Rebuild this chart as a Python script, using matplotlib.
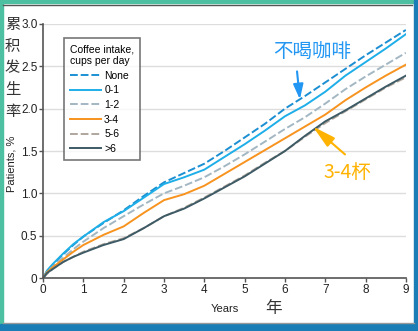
import matplotlib
matplotlib.use('Agg')
import matplotlib.pyplot as plt
from matplotlib.patches import Rectangle
from matplotlib.lines import Line2D

plt.rcParams['font.family'] = ['Liberation Sans', 'DejaVu Sans']

# cumulative incidence (%) by coffee intake group
years = [0, 0.1, 0.25, 0.5, 0.75, 1, 1.5, 2, 2.5, 3, 3.5, 4, 4.5, 5,
         5.5, 6, 6.5, 7, 7.5, 8, 8.5, 9]
none = [0, 0.08, 0.16, 0.28, 0.39, 0.49, 0.65, 0.80, 0.97, 1.13, 1.24,
        1.35, 1.50, 1.66, 1.82, 2.00, 2.15, 2.31, 2.47, 2.63, 2.78, 2.93]
cup01 = [0, 0.09, 0.17, 0.29, 0.40, 0.49, 0.66, 0.79, 0.95, 1.11, 1.19,
         1.28, 1.43, 1.58, 1.74, 1.91, 2.04, 2.20, 2.39, 2.55, 2.71, 2.88]
cup12 = [0, 0.07, 0.14, 0.24, 0.34, 0.43, 0.59, 0.73, 0.87, 1.00, 1.09,
         1.19, 1.32, 1.46, 1.61, 1.76, 1.90, 2.06, 2.23, 2.38, 2.52, 2.66]
cup34 = [0, 0.07, 0.13, 0.22, 0.31, 0.39, 0.51, 0.61, 0.77, 0.92, 0.99,
         1.09, 1.23, 1.37, 1.51, 1.65, 1.79, 1.93, 2.10, 2.25, 2.39, 2.52]
cup56 = [0, 0.05, 0.11, 0.19, 0.25, 0.31, 0.40, 0.47, 0.59, 0.73, 0.83,
         0.95, 1.08, 1.21, 1.36, 1.50, 1.67, 1.83, 1.97, 2.11, 2.25, 2.37]
cup6p = [0, 0.06, 0.11, 0.19, 0.25, 0.30, 0.39, 0.46, 0.59, 0.73, 0.82,
         0.94, 1.07, 1.20, 1.35, 1.50, 1.68, 1.85, 1.98, 2.12, 2.26, 2.39]

labels = ['None', '0-1', '1-2', '3-4', '5-6', '>6']
series = [none, cup01, cup12, cup34, cup56, cup6p]
colors = ['#1b8fd2', '#1eaee8', '#a3b7c3', '#f7931e', '#afa79d', '#3d5a65']
styles = [(0, (4, 1.5)), '-', (0, (4, 1.5)), '-', (0, (4, 1.5)), '-']

fig = plt.figure(figsize=(4.18, 3.31), dpi=100)

# frame strips around the panel
fig.patches.append(Rectangle((0, 0), 1, 1, transform=fig.transFigure,
                             color='white', zorder=-10))
fig.patches.append(Rectangle((0, 0.99), 1, 0.01, transform=fig.transFigure,
                             color='#4cc0a0', zorder=-5))
fig.patches.append(Rectangle((0, 0), 0.008, 1, transform=fig.transFigure,
                             color='#4cc0a0', zorder=-5))
fig.patches.append(Rectangle((0.99, 0), 0.01, 1, transform=fig.transFigure,
                             color='#1a7db5', zorder=-5))
fig.patches.append(Rectangle((0, 0), 1, 0.021, transform=fig.transFigure,
                             color='#1a7db5', zorder=-5))
fig.lines.append(Line2D([0.008, 0.985], [0.986, 0.986], transform=fig.transFigure,
                        color='#555555', linewidth=1))
fig.lines.append(Line2D([0.008, 0.99], [0.024, 0.024], transform=fig.transFigure,
                        color='#999999', linewidth=1))

ax = fig.add_axes([0.103, 0.160, 0.868, 0.7675])
for i in range(len(series)):
    ax.plot(years, series[i], color=colors[i], linestyle=styles[i],
            linewidth=1.4, label=labels[i])

ax.set_xlim(0, 9)
ax.set_ylim(0, 3.0)
ax.set_xticks(range(10))
ax.set_yticks([0, 0.5, 1.0, 1.5, 2.0, 2.5, 3.0])
ax.set_yticklabels(['0', '0.5', '1.0', '1.5', '2.0', '2.5', '3.0'])
ax.tick_params(labelsize=8.5, length=3, width=1, color='#555555',
               labelcolor='#222222', pad=1)
ax.yaxis.grid(True, color='#dddddd', linewidth=1)
ax.set_axisbelow(True)
for s in ['top', 'right']:
    ax.spines[s].set_visible(False)
for s in ['left', 'bottom']:
    ax.spines[s].set_color('#555555')
    ax.spines[s].set_linewidth(1.2)

ax.set_xlabel('Years', fontsize=8, color='#222222', labelpad=6)
ax.set_ylabel('Patients, %', fontsize=8, color='#222222')
ax.yaxis.set_label_coords(-0.072, 0.45)

leg = ax.legend(title='Coffee intake,\ncups per day', loc='upper left',
                bbox_to_anchor=(0.042, 0.965), fontsize=7.5, title_fontsize=7.5,
                frameon=True, fancybox=False, handlelength=3.0,
                handletextpad=0.3, labelspacing=0.45, borderpad=0.6)
leg._legend_box.align = 'left'
leg.get_frame().set_edgecolor('#555555')
leg.get_frame().set_linewidth(1.2)

cjk = ['Noto Sans CJK SC', 'DejaVu Sans']
fig.text(0.030, 0.952, '累\n积\n发\n生\n率', family=cjk, fontsize=11,
         color='#333333', ha='center', va='top', linespacing=1.36)
fig.text(0.655, 0.068, '年', family=cjk, fontsize=12, color='#333333',
         ha='center', va='center')

ax.text(6.67, 2.67, '不喝咖啡', family=cjk, fontsize=14, color='#2196f3',
        ha='center', va='center')
ax.annotate('', xy=(6.37, 2.11), xytext=(6.30, 2.44),
            arrowprops=dict(arrowstyle='-|>,head_length=0.9,head_width=0.3',
                            color='#2196f3', lw=1.5, shrinkA=0, shrinkB=0))
ax.text(7.56, 1.25, '3-4杯', family=cjk, fontsize=14, color='#ffb300',
        ha='center', va='center')
ax.annotate('', xy=(6.69, 1.79), xytext=(7.49, 1.46),
            arrowprops=dict(arrowstyle='-|>,head_length=1.4,head_width=0.35',
                            color='#ffb300', lw=1.5, shrinkA=0, shrinkB=0))

fig.savefig('out.png', dpi=100)
